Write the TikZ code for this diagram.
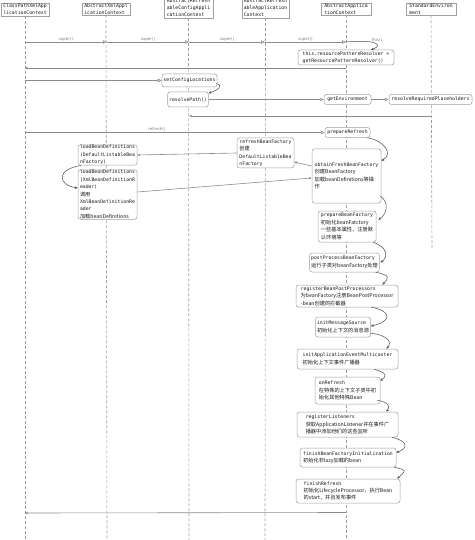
\documentclass[tikz,border=0pt]{standalone}
\usepackage{fontspec}
\setmonofont{DejaVu Sans Mono}
\setsansfont{DejaVu Sans}
\newfontfamily\cjk{Noto Sans CJK SC}
\usetikzlibrary{arrows.meta,calc}
\tikzset{
 life/.style={draw=gray!75, line width=0.6pt, dash pattern=on 3pt off 2pt},
 head/.style={draw=gray!75, fill=white, line width=0.5pt, font=\ttfamily\fontsize{4.8}{6.8}\selectfont, align=left, inner sep=0.5pt, text=black!90},
 box/.style={draw=gray!75, fill=white, line width=0.5pt, rounded corners=2.5pt, font=\ttfamily\fontsize{4.8}{7.4}\selectfont, align=left, inner xsep=1.5pt, inner ysep=0.5pt, text=black!90},
 bx/.style 2 args={box, minimum width=#1, minimum height=#2},
 hx/.style 2 args={head, minimum width=#1, minimum height=#2},
 call/.style={draw=gray!90, line width=0.6pt, -{Triangle[open,length=4pt,width=3.5pt]}},
 ret/.style={draw=gray!90, line width=0.6pt, -{Stealth[length=3pt,width=2.5pt]}},
 curv/.style={draw=black!70, line width=0.5pt, -{Stealth[length=3pt,width=2.5pt]}},
 lbl/.style={font=\sffamily\fontsize{4}{5}\selectfont, text=gray, inner sep=0.8pt},
}
\newcommand{\zh}[1]{{\cjk\fontsize{5.2}{7.4}\selectfont #1}}
\begin{document}
\begin{tikzpicture}[x=1pt,y=-1pt]
\path[use as bounding box, clip] (0,0) rectangle (474,540);
\fill[white] (0,0) rectangle (474,540);
% lifeline ends
\coordinate (E1) at (25,540);
\coordinate (E2) at (107,540);
\coordinate (E3) at (189,540);
\coordinate (E4) at (265,540);
\coordinate (E5) at (346,540);
\coordinate (E6) at (432,250);
% headers
\node[hx={48}{13}] (H1) at (25,9.5) {ClassPathXmlApp\\licationContext};
\node[hx={48}{12}] (H2) at (106,9) {AbstractXmlAppl\\icationContext};
\node[hx={49}{21}] (H3) at (188.5,7.5) {AbstractRefresh\\ableConfigAppli\\cationContext};
\node[hx={47}{21}] (H4) at (265.5,7.5) {AbstractRefresh\\ableApplication\\Context};
\node[hx={50}{12}] (H5) at (346,9) {AbstractApplica\\tionContext};
\node[hx={50}{12}] (H6) at (431,9) {StandardEnviron\\ment};
% lifelines
\draw[life] (H1.south) -- (E1);
\draw[life] (H2.south) -- (E2);
\draw[life] (H3.south) -- (E3);
\draw[life] (H4.south) -- (E4);
\draw[life] (H5.south) -- (E5);
\draw[life] (H6.south) -- (E6);
% boxes
\node[bx={96}{15}] (T) at (346,57.5) {this.resourcePatternResolver =\\getResourcePatternResolver()};
\node[bx={53}{13}] (S) at (189.5,80.5) {setConfigLocations};
\node[bx={38}{15}] (R) at (188,99.5) {resolvePath()};
\node[bx={47}{10}] (G) at (347.5,99.5) {getEnvironment};
\node[bx={83}{10}] (P) at (430.5,99.5) {resolveRequiredPlaceholders};
\node[bx={45}{10}] (PR) at (347.5,132.5) {prepareRefresh};
\node[bx={69}{54}] (OB) at (346.5,176) {obtainFreshBeanFactory\\\zh{创建BeanFactory}\\\zh{加载beanDefinitions等操}\\\zh{作}};
\node[bx={57}{30}] (RB) at (265.5,153) {refreshBeanFactory\\\zh{创建}\\DefaultListableBea\\nFactory};
\node[bx={59}{18}] (LB1) at (107.5,155) {loadBeanDefinitions\\(DefaultListableBea\\nFactory)};
\node[bx={59}{47}] (LB2) at (107.5,194.5) {loadBeanDefinitions\\(XmlBeanDefinitionR\\eader)\\\zh{调用}\\XmlBeanDefinitionRe\\ader\\\zh{加载beanDefinitions}};
\node[bx={58}{31}] (PB) at (347,226.5) {prepareBeanFactory\\\zh{初始化beanFatctory}\\\zh{一些基本属性，注册默}\\\zh{认环境等}};
\node[bx={67}{19}] (PP) at (344.5,262.5) {postProcessBeanFactory\\\zh{运行子类对beanFactory处理}};
\node[bx={102}{22}] (RBP) at (347,296) {registerBeanPostProcessors\\\zh{为beanFactory注册BeanPostProcessor}\\\zh{-bean创建的拦截器}};
\node[bx={50}{20}] (IM) at (343,327) {initMessageSource\\\zh{初始化上下文的消息源}};
\node[bx={101}{20}] (IAEM) at (347.5,359) {initApplicationEventMulticaster\\\zh{初始化上下文事件广播器}};
\node[bx={65}{27}] (OR) at (347.5,390.5) {onRefresh\\\zh{在特殊的上下文子类中初}\\\zh{始化其他特殊Bean}};
\node[bx={101}{25}] (RL) at (347.5,424.5) {registerListeners\\\zh{获取ApplicationListener并在事件广}\\\zh{播器中添加他们的这些监听}};
\node[bx={96}{19}] (FBFI) at (348,457.5) {finishBeanFactoryInitialization\\\zh{初始化非lazy加载的bean}};
\node[bx={104}{24}] (FR) at (348,491) {finishRefresh\\\zh{初始化LifecycleProcessor，执行Bean}\\\zh{的start，并且发布事件}};
% message points
\coordinate (s1) at (25,42);
\coordinate (s2) at (107,42);
\coordinate (s3) at (189,42);
\coordinate (s4) at (265,42);
\coordinate (s5) at (346,42);
\coordinate (r1a) at (346,68);
\coordinate (r1b) at (25,68);
\coordinate (c1) at (25,80.5);
\coordinate (r2a) at (432,116);
\coordinate (r2b) at (189,116);
\coordinate (c2) at (25,132.5);
\coordinate (r3a) at (346,512.5);
\coordinate (r3b) at (25,513);
% super() calls
\draw[call] (s1) -- node[lbl,above]{super()} (s2);
\draw[call] (s2) -- node[lbl,above]{super()} (s3);
\draw[call] (s3) -- node[lbl,above]{super()} (s4);
\draw[call] (s4) -- node[lbl,above]{super()} (s5);
\draw[curv] (s5) .. controls (380,39) and (382,46) .. ($(T.north)+(25,0)$);
\node[lbl] (thislbl) at (377,40.5) {this()};
\draw[ret] (r1a) -- (r1b);
\draw[call] (c1) -- (S.west);
\draw[curv] ($(S.east)+(-1,3)$) .. controls +(8,2) and +(9,-3) .. ($(R.north east)+(0,1.5)$);
\draw[call] (R.east) -- (G.west);
\draw[call] (G.east) -- (P.west);
\draw[ret] (r2a) -- (r2b);
\draw[call] (c2) -- node[lbl,above,pos=0.44]{refresh()} (PR.west);
\draw[curv] ($(PR.south east)+(-3,0)$) .. controls +(18,3) and +(12,-6) .. ($(OB.north east)+(0,12)$);
\draw[ret] ($(OB.west)+(0,-10)$) -- ($(RB.east)+(0,9)$);
\draw[ret] (RB.west) -- (LB1.east);
\draw[curv] ($(LB1.south west)+(3,0)$) .. controls +(-25,4) and +(-20,-3) .. ($(LB2.west)+(0,-6.5)$);
\draw[ret] ($(LB2.east)+(0,-2.5)$) -- ($(OB.west)+(0,2)$);
\draw[curv] ($(OB.south east)+(-1,-7)$) .. controls +(10,6) and +(8,-5) .. ($(PB.north east)+(2,9)$);
\draw[curv] ($(PB.south east)+(-3,0)$) .. controls +(14,5) and +(8,-6) .. ($(PP.east)+(1,0)$);
\draw[curv] ($(PP.south east)+(-4,0)$) .. controls +(16,3) and +(6,-6) .. ($(RBP.north east)+(-16,0)$);
\draw[curv] ($(RBP.south east)+(-27,0)$) .. controls +(22,4) and +(20,-4) .. ($(IM.east)+(0,-1)$);
\draw[curv] ($(IM.south east)+(0,-4)$) .. controls +(18,2) and +(6,-6) .. ($(IAEM.north east)+(-12,0)$);
\draw[curv] ($(IAEM.south east)+(-24,0)$) .. controls +(14,4) and +(6,-4) .. ($(OR.north east)+(0,4)$);
\draw[curv] ($(OR.south east)+(-3,-4)$) .. controls +(12,2) and +(4,-5) .. ($(RL.north east)+(-12,0)$);
\draw[curv] ($(RL.south east)+(-6,0)$) .. controls +(16,4) and +(12,-4) .. ($(FBFI.east)+(0,-5)$);
\draw[curv] ($(FBFI.south east)+(-2,0)$) .. controls +(16,3) and +(6,-6) .. ($(FR.north east)+(-3,0)$);
\draw[ret] (r3a) -- (r3b);
\end{tikzpicture}
\end{document}
